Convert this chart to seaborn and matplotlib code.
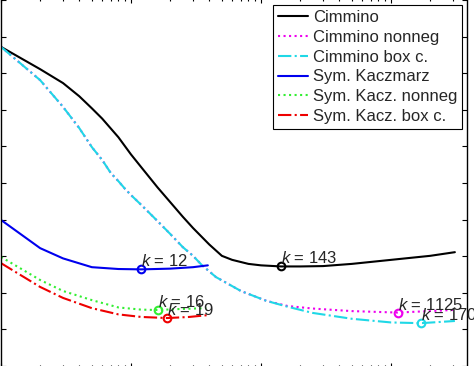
"""
Convergence curves of Cimmino and symmetric Kaczmarz variants
(log-scale iteration count on x, error on y, no tick labels).
"""

import matplotlib
matplotlib.use('Agg')
import matplotlib.pyplot as plt
import seaborn as sns

# Data (k = iteration, y = error in axis units 0..10)
k_cim = [1, 2, 3, 4, 5, 6, 8, 10, 12, 16, 20, 25, 30, 40, 50, 60, 80, 100,
         143, 200, 300, 500, 1000, 2000, 3100]
y_cim = [8.72, 8.11, 7.73, 7.37, 7.04, 6.76, 6.25, 5.78, 5.43, 4.88, 4.48,
         4.08, 3.77, 3.32, 3.01, 2.90, 2.79, 2.75, 2.72, 2.72, 2.73, 2.79,
         2.90, 3.01, 3.11]

k_cim_nn = [1, 2, 3, 4, 5, 6, 7, 8, 9, 10, 12, 16, 20, 25, 30, 35, 45, 70,
            110, 160, 250, 500, 1125, 3000]
y_cim_nn = [8.72, 7.81, 7.08, 6.50, 5.98, 5.63, 5.27, 5.05, 4.84, 4.67, 4.40,
            3.96, 3.61, 3.25, 3.01, 2.76, 2.43, 2.05, 1.78, 1.64, 1.57, 1.50,
            1.46, 1.53]

k_cim_box = [1, 2, 3, 4, 5, 6, 7, 8, 9, 10, 12, 16, 20, 25, 30, 35, 45, 70,
             110, 160, 250, 500, 1000, 1700, 3100]
y_cim_box = [8.72, 7.81, 7.08, 6.50, 5.98, 5.63, 5.27, 5.05, 4.84, 4.67,
             4.40, 3.96, 3.61, 3.25, 3.01, 2.76, 2.43, 2.05, 1.78, 1.62, 1.45,
             1.29, 1.19, 1.17, 1.23]

k_kacz = [1, 2, 3, 5, 8, 12, 20, 30, 39]
y_kacz = [3.99, 3.22, 2.94, 2.70, 2.65, 2.64, 2.66, 2.70, 2.75]

k_kacz_nn = [1, 2, 3, 5, 8, 12, 16, 25, 38]
y_kacz_nn = [2.98, 2.35, 2.05, 1.80, 1.60, 1.54, 1.53, 1.56, 1.58]

k_kacz_box = [1, 2, 3, 5, 8, 12, 19, 28, 39]
y_kacz_box = [2.81, 2.16, 1.86, 1.58, 1.41, 1.34, 1.31, 1.34, 1.39]

labels = ['Cimmino', 'Cimmino nonneg', 'Cimmino box c.', 'Sym. Kaczmarz',
          'Sym. Kacz. nonneg', 'Sym. Kacz. box c.']
colors = ['black', '#ee00ee', '#1fd8e6', '#0000ee', '#33ee33', '#ee0000']
styles = ['-', ':', '-.', '-', ':', '-.']

# Optimal iteration markers
best_k = [143, 1125, 1700, 12, 16, 19]
best_y = [2.72, 1.46, 1.17, 2.64, 1.53, 1.31]
best_text = ['143', '1125', '1700', '12', '16', '19']


def main():
    sns.set_style('ticks', {'xtick.direction': 'in',
                            'ytick.direction': 'in'})
    plt.rcParams['font.family'] = ['Liberation Sans', 'DejaVu Sans']
    plt.rcParams['mathtext.fontset'] = 'custom'
    plt.rcParams['mathtext.it'] = 'Liberation Sans:italic'
    plt.rcParams['mathtext.rm'] = 'Liberation Sans'

    fig = plt.figure(figsize=(4.74, 3.66), dpi=100)
    ax = fig.add_axes([1 / 474, -2 / 366, 466 / 474, 370 / 366])

    series = [(k_cim, y_cim), (k_cim_nn, y_cim_nn), (k_cim_box, y_cim_box),
              (k_kacz, y_kacz), (k_kacz_nn, y_kacz_nn),
              (k_kacz_box, y_kacz_box)]
    for (kk, yy), lab, col, ls in zip(series, labels, colors, styles):
        sns.lineplot(x=kk, y=yy, ax=ax, color=col, linestyle=ls,
                     linewidth=1.5, label=lab, sort=False)

    for kb, yb, txt, col in zip(best_k, best_y, best_text, colors):
        ax.plot([kb], [yb], 'o', mfc='none', mec=col, mew=1.5, ms=5.5)
        ax.annotate(r'$k$ = ' + txt, (kb, yb), xytext=(0, 3),
                    textcoords='offset pixels', ha='left', va='baseline',
                    fontsize=12, annotation_clip=False)

    ax.set_xscale('log')
    ax.set_xlim(1, 10 ** (466 / 130))
    ax.set_ylim(10 - 370 / 36.6 + 2 / 36.6, 10 + 2 / 36.6)
    ax.set_yticks(range(0, 11))
    ax.tick_params(which='both', top=True, right=True, labelbottom=False,
                   labelleft=False, color='black')
    ax.tick_params(which='major', length=3.5, width=0.8)
    ax.tick_params(which='minor', length=2.5, width=0.8)
    for sp in ax.spines.values():
        sp.set_color('black')
        sp.set_linewidth(1.0)

    leg = ax.legend(loc='upper right', bbox_to_anchor=(462 / 474, 1 - 5 / 366),
                    bbox_transform=fig.transFigure, borderaxespad=0,
                    fontsize=12, handlelength=1.75, handletextpad=0.3,
                    labelspacing=0.29, borderpad=0.3, fancybox=False,
                    framealpha=1)
    leg.get_frame().set_edgecolor('black')
    leg.get_frame().set_linewidth(0.8)

    fig.savefig('out.png', dpi=100)


if __name__ == '__main__':
    main()
